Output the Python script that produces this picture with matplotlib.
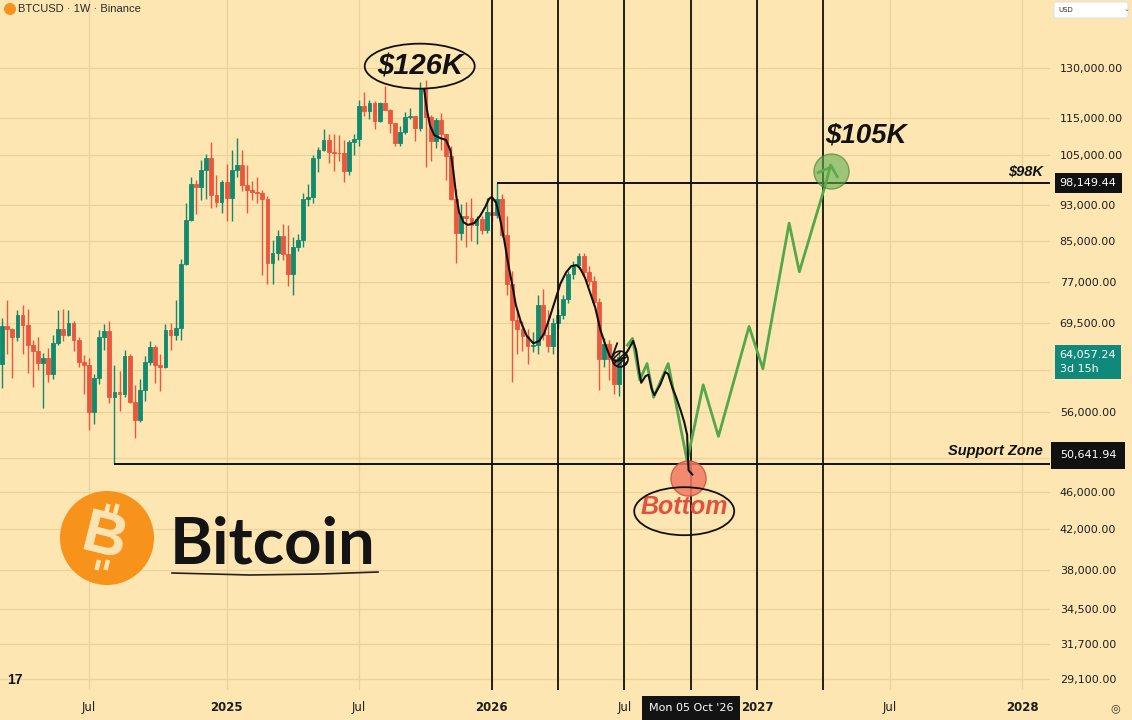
import numpy as np
import pandas as pd
import matplotlib
matplotlib.use("Agg")
import matplotlib.pyplot as plt
import matplotlib.dates as mdates
from matplotlib import patches, transforms
from matplotlib.lines import Line2D
from matplotlib.ticker import NullLocator

BG = '#fde6b2'
GRID = '#ebd19a'
UP = '#138a6e'
DOWN = '#ea573d'

# weekly BTCUSD candles (thousands of USD)
weeks = pd.date_range('2024-02-26', periods=123, freq='7D')
opens = [51.7, 63.0, 69.0, 68.5, 67.2, 70.9, 69.3, 65.9, 64.9, 63.1,
         63.9, 61.4, 66.3, 68.5, 67.6, 69.6, 66.7, 63.2, 62.7, 55.9,
         60.8, 67.2, 68.2, 58.1, 58.7, 58.4, 64.2, 57.3, 54.8, 59.1,
         63.2, 65.6, 62.8, 62.5, 68.4, 67.6, 68.7, 80.4, 89.6, 97.9,
         97.2, 101.2, 104.4, 95.2, 93.7, 98.4, 94.5, 101.3, 102.6, 97.7,
         96.4, 96.0, 95.7, 94.3, 80.7, 82.6, 86.1, 82.4, 78.4, 83.8,
         85.2, 94.3, 94.8, 104.2, 106.4, 109.0, 105.7, 105.6, 105.5, 101.0,
         108.4, 109.2, 118.5, 117.0, 119.4, 114.2, 119.3, 117.4, 113.5, 108.3,
         111.1, 115.3, 115.5, 112.2, 123.5, 115.2, 108.7, 114.5, 110.5, 104.7,
         94.2, 86.8, 90.4, 90.0, 88.4, 89.7, 87.4, 91.3, 90.6, 94.3,
         86.3, 76.6, 70.1, 68.6, 67.4, 65.7, 66.0, 72.7, 67.6, 65.7,
         69.6, 71.0, 73.8, 78.5, 80.2, 82.0, 78.9, 77.1, 73.2, 63.7,
         66.1, 63.7, 59.9]
highs = [64.0, 70.5, 73.6, 68.8, 71.8, 72.7, 72.0, 66.8, 67.2, 64.7,
         65.5, 67.6, 71.9, 72.0, 71.9, 70.0, 67.3, 64.4, 63.8, 61.4,
         68.4, 69.4, 70.0, 62.7, 61.8, 65.1, 64.5, 59.8, 60.7, 64.1,
         66.5, 66.0, 64.5, 69.4, 69.5, 73.6, 81.5, 93.3, 99.6, 98.9,
         103.8, 105.3, 108.4, 99.9, 98.9, 102.7, 106.4, 109.6, 106.4, 102.5,
         98.5, 99.5, 96.5, 95.0, 85.3, 87.5, 88.8, 88.5, 85.9, 86.5,
         95.8, 97.9, 105.0, 107.1, 111.9, 110.7, 110.5, 110.4, 108.9, 109.0,
         110.5, 120.2, 122.5, 120.2, 119.9, 119.6, 124.5, 117.6, 113.7, 112.7,
         116.6, 118.0, 115.6, 125.7, 126.2, 115.9, 114.9, 116.4, 110.6, 107.5,
         96.6, 93.1, 93.5, 94.6, 90.5, 90.5, 94.5, 94.8, 98.1, 95.5,
         90.5, 79.0, 72.0, 70.0, 68.5, 68.0, 74.5, 75.7, 71.8, 70.5,
         72.0, 74.5, 79.0, 81.0, 82.6, 82.7, 80.0, 78.0, 74.0, 67.0,
         66.8, 64.5, 64.8]
lows = [50.9, 59.3, 64.5, 60.8, 66.5, 64.5, 61.5, 59.5, 62.0, 56.5,
        60.2, 60.6, 66.0, 66.6, 67.4, 65.0, 62.5, 58.5, 53.5, 54.3,
        59.9, 65.1, 57.2, 49.3, 56.1, 58.0, 57.2, 52.5, 54.6, 57.5,
        62.7, 60.0, 58.9, 62.3, 65.1, 66.8, 66.8, 80.2, 89.3, 90.8,
        94.0, 94.2, 92.2, 92.5, 91.2, 89.3, 89.3, 99.5, 96.2, 91.2,
        94.1, 93.4, 78.3, 76.6, 76.6, 81.2, 81.3, 76.2, 74.5, 83.0,
        83.9, 92.8, 93.4, 100.8, 106.1, 103.1, 101.1, 103.4, 98.3, 100.0,
        105.1, 107.4, 115.7, 114.7, 112.0, 114.0, 117.2, 110.9, 107.3, 107.3,
        110.6, 114.8, 108.7, 111.5, 102.0, 103.5, 106.9, 106.3, 98.9, 94.0,
        80.6, 85.3, 83.8, 85.0, 84.4, 86.5, 86.8, 89.3, 90.0, 86.0,
        74.5, 60.2, 64.5, 65.0, 62.9, 64.8, 64.5, 66.8, 64.8, 64.5,
        68.8, 70.3, 73.0, 77.5, 79.5, 78.0, 76.2, 72.5, 59.0, 62.5,
        60.5, 58.5, 58.2]
closes = [63.0, 69.0, 68.5, 67.2, 70.9, 69.3, 65.9, 64.9, 63.1, 63.9,
          61.4, 66.3, 68.5, 67.6, 69.6, 66.7, 63.2, 62.7, 55.9, 60.8,
          67.2, 68.2, 58.1, 58.7, 58.4, 64.2, 57.3, 54.8, 59.1, 63.2,
          65.6, 62.8, 62.5, 68.4, 67.6, 68.7, 80.4, 89.6, 97.9, 97.2,
          101.2, 104.4, 95.2, 93.7, 98.4, 94.5, 101.3, 102.6, 97.7, 96.4,
          96.0, 95.7, 94.3, 80.7, 82.6, 86.1, 82.4, 78.4, 83.8, 85.2,
          94.3, 94.8, 104.2, 106.4, 109.0, 105.7, 105.6, 105.5, 101.0, 108.4,
          109.2, 118.5, 117.0, 119.4, 114.2, 119.3, 117.4, 113.5, 108.3, 111.1,
          115.3, 115.5, 112.2, 123.5, 115.2, 108.7, 114.5, 110.5, 104.7, 94.2,
          86.8, 90.4, 90.0, 88.4, 89.7, 87.4, 91.3, 90.6, 94.3, 86.3,
          76.6, 70.1, 68.6, 67.4, 65.7, 66.0, 72.7, 67.6, 65.7, 69.6,
          71.0, 73.8, 78.5, 80.2, 82.0, 78.9, 77.1, 73.2, 63.7, 66.1,
          63.7, 59.9, 64.06]

# hand drawn black path
path_dates = ['2025-10-04', '2025-10-08', '2025-10-12', '2025-10-18', '2025-10-26', '2025-11-03',
              '2025-11-09', '2025-11-13', '2025-11-17', '2025-11-21', '2025-11-27', '2025-12-03',
              '2025-12-12', '2025-12-20', '2025-12-27', '2026-01-01', '2026-01-05', '2026-01-11',
              '2026-01-16', '2026-01-22', '2026-01-27', '2026-02-02', '2026-02-07', '2026-02-14',
              '2026-02-22', '2026-03-03', '2026-03-11', '2026-03-18', '2026-03-25', '2026-04-02',
              '2026-04-09', '2026-04-17', '2026-04-24', '2026-05-01', '2026-05-06', '2026-05-13',
              '2026-05-20', '2026-05-27', '2026-06-03', '2026-06-10', '2026-06-16', '2026-06-23',
              '2026-06-30', '2026-07-05', '2026-07-11', '2026-07-18', '2026-07-22', '2026-07-26',
              '2026-07-29', '2026-08-04', '2026-08-08', '2026-08-12', '2026-08-16', '2026-08-24',
              '2026-08-31', '2026-09-04', '2026-09-10', '2026-09-15', '2026-09-21', '2026-09-26',
              '2026-09-30', '2026-10-01', '2026-10-02', '2026-10-07']
path_prices = [123.5, 117.3, 113.0, 110.3, 109.5, 109.0, 106.3, 101.2, 95.2, 91.3,
               89.1, 88.5, 88.9, 90.5, 92.5, 94.3, 94.8, 93.4, 90.0, 85.3,
               80.8, 76.4, 72.7, 69.7, 67.4, 66.2, 66.6, 67.9, 70.4, 73.6,
               76.6, 78.8, 80.0, 80.2, 79.6, 77.7, 74.9, 72.2, 68.4, 65.9,
               64.1, 63.4, 63.5, 64.0, 65.1, 66.6, 65.1, 62.0, 60.1, 61.1,
               61.3, 59.3, 58.3, 59.8, 61.7, 61.4, 59.3, 58.0, 56.2, 54.6,
               52.9, 50.4, 48.5, 48.0]
tick_stroke_dates = ['2026-06-19', '2026-06-26']
tick_stroke_prices = [64.0, 66.2]

# green projection
proj_dates = ['2026-07-10', '2026-07-17', '2026-07-27', '2026-08-06', '2026-08-15', '2026-09-04',
              '2026-09-30', '2026-10-22', '2026-11-12', '2026-12-24', '2027-01-12', '2027-02-17',
              '2027-03-03', '2027-04-08', '2027-04-15', '2027-04-24']
proj_prices = [65.9, 67.0, 60.5, 63.0, 58.0, 63.0, 49.6, 59.8, 52.7, 69.0,
               62.2, 88.9, 78.9, 97.8, 102.5, 99.6]
proj_stroke_dates = ['2027-03-29', '2027-04-12']
proj_stroke_prices = [100.6, 101.7]

cycle_dates = ['2026-01-05', '2026-04-06', '2026-07-06', '2026-10-05', '2027-01-04', '2027-04-05']
resistance = 98149.44
resistance_from = '2026-01-12'
support = 49300
support_from = '2024-08-05'

price_ticks = [130000, 115000, 105000, 93000, 85000, 77000, 69500,
               56000, 46000, 42000, 38000, 34500, 31700, 29100]
hidden_grid = [62000, 50000]
time_ticks = ['2024-07-01', '2025-01-06', '2025-07-07', '2026-01-05',
              '2026-07-06', '2027-01-04', '2027-07-05', '2028-01-03']
time_labels = ['Jul', '2025', 'Jul', '2026', 'Jul', '2027', 'Jul', '2028']


def dn(s):
    return mdates.date2num(pd.Timestamp(s))


def dnl(lst):
    return mdates.date2num(pd.to_datetime(lst))


fig = plt.figure(figsize=(11.32, 7.2), dpi=100, facecolor=BG)
ax = fig.add_axes([0, 30 / 720, 1050 / 1132, 690 / 720], facecolor=BG)
ax.set_yscale('log')
inch = fig.dpi_scale_trans

x = mdates.date2num(weeks)
o = np.array(opens) * 1000
h = np.array(highs) * 1000
l = np.array(lows) * 1000
c = np.array(closes) * 1000
cols = np.where(c >= o, UP, DOWN)
ax.vlines(x, l, h, colors=cols, lw=1.0, zorder=2)
ax.bar(x, np.abs(c - o), bottom=np.minimum(o, c), width=5.2,
       color=cols, edgecolor=cols, lw=0.6, zorder=3)

# horizontal levels and cycle lines
ax.hlines(resistance, dn(resistance_from), dn('2028-02-10'), color='#111', lw=1.4, zorder=4)
ax.hlines(support, dn(support_from), dn('2028-02-10'), color='#111', lw=1.4, zorder=4)
for d in cycle_dates:
    ax.axvline(dn(d), color='#111', lw=1.3, zorder=4)
for v in hidden_grid:
    ax.axhline(v, color=GRID, lw=0.9, zorder=0.5)

# projection + drawing
ax.plot(dnl(proj_dates), np.array(proj_prices) * 1000, color='#55a84a', lw=2.0, zorder=5)
ax.plot(dnl(proj_stroke_dates), np.array(proj_stroke_prices) * 1000, color='#55a84a', lw=2.0, zorder=5)
ax.plot(dnl(path_dates), np.array(path_prices) * 1000, color='#111', lw=1.5, zorder=6)
ax.plot(dnl(tick_stroke_dates), np.array(tick_stroke_prices) * 1000, color='#111', lw=1.3, zorder=6)
ax.scatter([dn('2026-06-30')], [63700], s=130, facecolors='none', edgecolors='#111',
           hatch='//////', lw=1.2, zorder=6)

ax.scatter([dn('2026-10-01')], [47600], s=640, c='#f27a64', alpha=0.85,
           edgecolors='#c9563f', lw=1, zorder=5)
ax.scatter([dn('2027-04-15')], [101000], s=640, c='#5fae50', alpha=0.6,
           edgecolors='#3f7d33', lw=1, zorder=5)


def ring(xd, yd, w, hgt, dy=0.0):
    # hand drawn ellipse around a label, size in inches
    tr = inch + transforms.ScaledTranslation(xd, yd, ax.transData)
    e = patches.Ellipse((0, dy), w, hgt, transform=tr, fill=False, ec='#111', lw=1.3,
                        zorder=8, clip_on=False)
    ax.add_artist(e)


# annotations
ax.text(dn('2025-09-28'), 130600, '$126K', family='Liberation Sans', fontsize=21,
        fontweight='bold', style='italic', ha='center', va='center', color='#111', zorder=8)
ring(dn('2025-09-28'), 130600, 1.10, 0.45)
ax.text(dn('2027-06-03'), 110300, '$105K', family='Liberation Sans', fontsize=20,
        fontweight='bold', style='italic', ha='center', va='center', color='#111', zorder=8)
ax.text(dn('2026-09-26'), 44300, 'Bottom', family='Liberation Sans', fontsize=18,
        fontweight='bold', style='italic', ha='center', va='center', color='#e4503f', zorder=8)
ring(dn('2026-09-26'), 44300, 1.00, 0.48, dy=-0.04)

trans = transforms.blended_transform_factory(ax.transAxes, ax.transData)
ax.text(0.993, 50800, 'Support Zone', transform=trans, family='Liberation Sans', fontsize=10.5,
        fontweight='bold', style='italic', ha='right', va='center', color='#111', zorder=8)
ax.text(0.993, 101000, '$98K', transform=trans, family='Liberation Sans', fontsize=10.5,
        fontweight='bold', style='italic', ha='right', va='center', color='#111', zorder=8)

box_kw = dict(xycoords=trans, textcoords='offset points', ha='left', fontsize=8,
              color='white', annotation_clip=False)
ax.annotate('98,149.44', xy=(1, resistance), xytext=(7, 0), va='center', zorder=10,
            bbox=dict(boxstyle='square,pad=0.45', fc='#111', ec='none'), **box_kw)
ax.annotate('50,641.94', xy=(1, 50641.94), xytext=(7, -2), va='center', zorder=10,
            bbox=dict(boxstyle='square,pad=0.75', fc='#111', ec='none'), **box_kw)
ax.annotate('64,057.24\n3d 15h', xy=(1, 64057.24), xytext=(7, 5), va='top', zorder=10,
            linespacing=1.5, bbox=dict(boxstyle='square,pad=0.45', fc='#10897a', ec='none'),
            **box_kw)
ax.annotate("Mon 05 Oct '26", xy=(dn('2026-10-05'), 0), xycoords=('data', 'axes fraction'),
            xytext=(0, -13), textcoords='offset points', ha='center', va='center',
            fontsize=8, color='white', zorder=20, annotation_clip=False,
            bbox=dict(boxstyle='square,pad=0.6', fc='#131313', ec='none'))

# axes styling
ax.set_xlim(dn('2024-03-01'), dn('2028-02-10'))
ax.set_ylim(28300, 153600)
ax.set_yticks(price_ticks, labels=[f'{v:,.2f}' for v in price_ticks])
ax.yaxis.set_minor_locator(NullLocator())
ax.yaxis.tick_right()
ax.tick_params(axis='y', length=0, pad=7, labelsize=8, labelcolor='#1e1e1e')
ax.set_xticks(dnl(time_ticks), labels=time_labels)
ax.tick_params(axis='x', length=0, pad=8, labelsize=8.5, labelcolor='#1e1e1e')
for lab, txt in zip(ax.get_xticklabels(), time_labels):
    if txt != 'Jul':
        lab.set_fontweight('bold')
ax.grid(True, color=GRID, lw=0.9)
ax.set_axisbelow(True)
for s in ax.spines.values():
    s.set_visible(False)

# Bitcoin logo and word mark
cx, cy = 1.07, 1.82
cream = '#fde4b4'
fig.add_artist(patches.Circle((cx, cy), 0.47, transform=inch, facecolor='#f7931a',
                              edgecolor='none', zorder=5))
fig.text(cx - 0.03, cy - 0.01, 'B', transform=inch, family='Liberation Sans', fontsize=44,
         fontweight='bold', rotation=-14, color=cream, ha='center', va='center', zorder=6)
for x0 in (1.06, 1.15):
    fig.add_artist(Line2D([x0, x0 + 0.025], [2.06, 2.16], transform=inch,
                          color=cream, lw=3.2, zorder=6, solid_capstyle='butt'))
for x0 in (0.99, 1.08):
    fig.add_artist(Line2D([x0, x0 - 0.025], [1.60, 1.50], transform=inch,
                          color=cream, lw=3.2, zorder=6, solid_capstyle='butt'))
fig.text(1.70, 1.57, 'Bitcoin', transform=inch, family='Lato', fontsize=47,
         fontweight='bold', color='#141414', va='baseline', ha='left', zorder=6)
fig.add_artist(Line2D([1.72, 2.5, 3.2, 3.78], [1.47, 1.45, 1.46, 1.48],
                      transform=inch, color='#222', lw=1.2, zorder=6))

# header / chrome
fig.add_artist(patches.Circle((0.10, 7.11), 0.06, transform=inch, facecolor='#f7931a',
                              edgecolor='none', zorder=6))
fig.text(0.18, 7.11, 'BTCUSD · 1W · Binance', transform=inch, family='Liberation Sans',
         fontsize=8, color='#2a2a2a', va='center', ha='left')
fig.add_artist(patches.FancyBboxPatch((10.54, 7.02), 0.74, 0.16,
                                      boxstyle='round,pad=0,rounding_size=0.02',
                                      transform=inch, fc='white', ec='#dddddd', lw=0.6, zorder=6))
fig.text(10.58, 7.10, 'USD', transform=inch, fontsize=5, color='#333', va='center', zorder=7)
fig.text(11.24, 7.11, '⌄', transform=inch, fontsize=5, color='#555', va='center', zorder=7)
fig.text(0.15, 0.40, '17', transform=inch, family='Liberation Sans', fontsize=10,
         fontweight='bold', color='#111', ha='center', va='center')
fig.text(11.15, 0.12, '◎', transform=inch, fontsize=8, color='#333', ha='center', va='center')

fig.savefig('out.png', dpi=100, facecolor=BG)
